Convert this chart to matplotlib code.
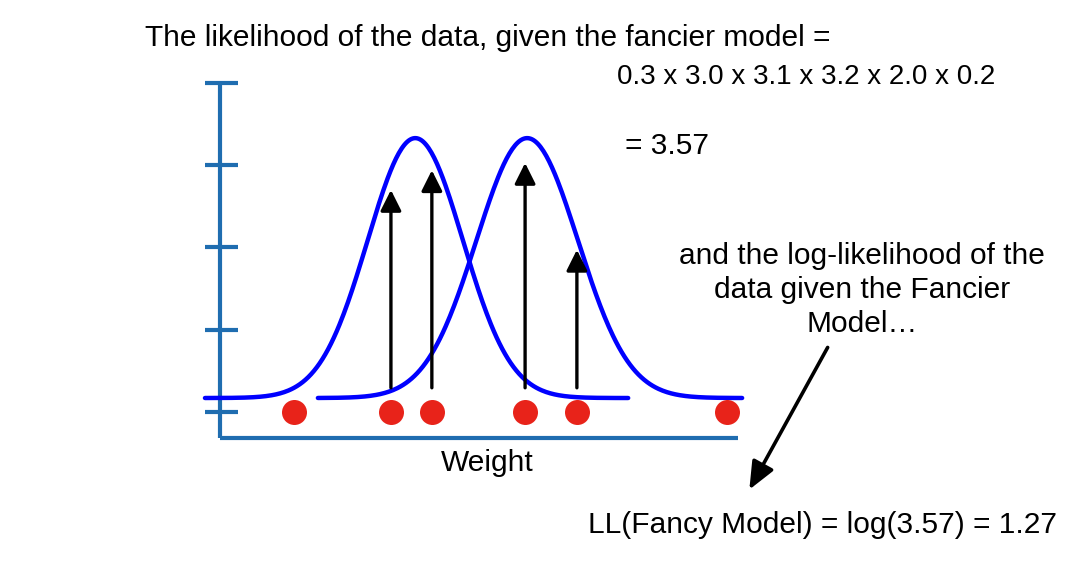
import numpy as np
import matplotlib
matplotlib.use("Agg")
import matplotlib.pyplot as plt

# data (x = weight units, y = likelihood units)
weights = [1.43, 3.30, 4.09, 5.89, 6.89, 9.79]
arrow_idx = [1, 2, 3, 4]
arrow_tops = [2.85, 3.12, 3.22, 2.03]
likelihoods = ["0.3", "3.0", "3.1", "3.2", "2.0", "0.2"]
curve_means = [3.77, 5.93]
curve_sds = [0.92, 0.98]
curve_peak = 3.56
curve_ranges = [(-0.29, 7.88), (1.89, 10.08)]
ytick_vals = [4.32, 3.19, 2.07, 0.93, -0.19]
xaxis_y = -0.55
dot_y = -0.19

plt.rcParams['font.family'] = ['Liberation Sans', 'DejaVu Sans']

fig = plt.figure(figsize=(10.8, 5.82), dpi=100)
W, H = 1080, 582

def fx(px):
    return px / W

def fy(py):
    return 1 - py / H

# plot axes spans pixel box 200..760 x 70..450
ax = fig.add_axes([fx(200), fy(450), 560 / W, 380 / H])
ax.set_xlim(-0.386, 10.425)
ax.set_ylim(-0.712, 4.493)
ax.axis('off')

axis_col = '#1f6db0'
# drawn axes
ax.plot([0, 0], [xaxis_y, ytick_vals[0]], color=axis_col, lw=3, solid_capstyle='butt')
ax.plot([0, 10.0], [xaxis_y, xaxis_y], color=axis_col, lw=3, solid_capstyle='butt')
for yt in ytick_vals:
    ax.plot([-0.29, 0.35], [yt, yt], color=axis_col, lw=3, solid_capstyle='butt')

# normal curves
for m, sd, (a, b) in zip(curve_means, curve_sds, curve_ranges):
    xs = np.linspace(a, b, 300)
    ys = curve_peak * np.exp(-0.5 * ((xs - m) / sd) ** 2)
    ax.plot(xs, ys, color='#0000ff', lw=3.2, solid_capstyle='round', zorder=3)

# arrows
for i, top in zip(arrow_idx, arrow_tops):
    ax.annotate('', xy=(weights[i], top), xytext=(weights[i], 0.14),
                arrowprops=dict(arrowstyle='-|>,head_length=0.7,head_width=0.35',
                                color='black', lw=2.4,
                                mutation_scale=18, shrinkA=0, shrinkB=0),
                zorder=4)

# data points
ax.plot(weights, [dot_y] * len(weights), 'o', color='#e8231a', ms=18, zorder=5, mec='none')

# text
fs = 21.5
fig.text(fx(145), fy(38), "The likelihood of the data, given the fancier model =",
         fontsize=fs, va='center', ha='left')
fig.text(fx(617), fy(77), " x ".join(likelihoods),
         fontsize=20, va='center', ha='left')
fig.text(fx(625), fy(146), "= 3.57", fontsize=fs, va='center', ha='left')
fig.text(fx(862), fy(290), "and the log-likelihood of the\ndata given the Fancier\nModel\u2026",
         fontsize=fs, va='center', ha='center', linespacing=1.28)
fig.text(fx(487), fy(463), "Weight", fontsize=fs, va='center', ha='center')
fig.text(fx(822), fy(525), "LL(Fancy Model) = log(3.57) = 1.27",
         fontsize=fs, va='center', ha='center')

# pointer arrow in figure space
fig.add_artist(matplotlib.patches.FancyArrowPatch(
    (fx(829), fy(345)), (fx(748), fy(492)), transform=fig.transFigure,
    arrowstyle='-|>,head_length=0.7,head_width=0.3', mutation_scale=24,
    color='black', lw=2.6))

fig.savefig('out.png', dpi=100, facecolor='white')
